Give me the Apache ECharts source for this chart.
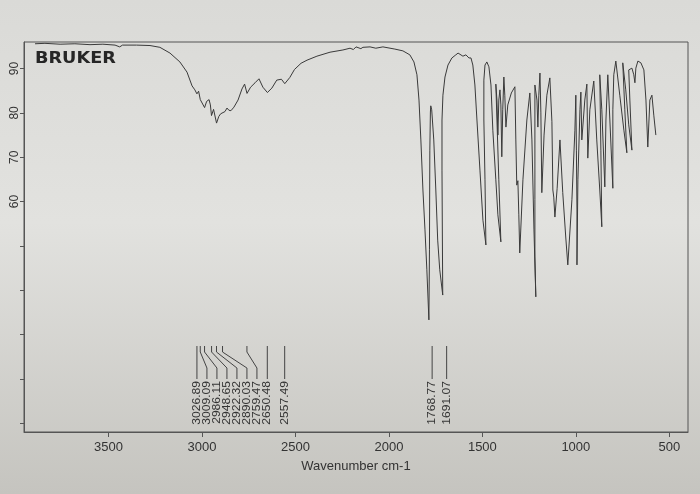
<!DOCTYPE html>
<html>
<head>
<meta charset="utf-8">
<script src="https://cdn.jsdelivr.net/npm/echarts@6/dist/echarts.min.js"></script>
<style>
  html, body { margin: 0; padding: 0; }
  #chart { width: 700px; height: 494px; }
</style>
</head>
<body>
<div id="chart"></div>
<script>
// IR spectrum: wavenumber (cm-1) and transmittance (%)
const wavenumbers = [
  3893, 3840, 3759, 3680, 3599, 3530, 3465, 3440, 3425, 3350, 3278, 3225, 3171, 3118, 3080, 3053,
  3038, 3027, 3018, 3009, 3000, 2986, 2975, 2962, 2955, 2949, 2938, 2922, 2910, 2900, 2890, 2877,
  2866, 2856, 2845, 2829, 2807, 2786, 2772, 2759, 2740, 2716, 2695, 2674, 2650, 2626, 2600, 2575,
  2557, 2530, 2505, 2470, 2438, 2385, 2315, 2246, 2208, 2190, 2176, 2150, 2139, 2101, 2070, 2032,
  1968, 1925, 1888, 1866, 1850, 1839, 1829, 1818, 1807, 1797, 1786, 1783, 1781, 1778, 1776, 1771,
  1760, 1749, 1739, 1728, 1712, 1714, 1716, 1716, 1711, 1700, 1684, 1663, 1642, 1630, 1620, 1604,
  1588, 1572, 1561, 1551, 1540, 1529, 1513, 1497, 1481, 1486, 1492, 1492, 1486, 1476, 1465, 1454,
  1444, 1428, 1417, 1401, 1412, 1422, 1428, 1422, 1417, 1412, 1406, 1401, 1396, 1391, 1385, 1380,
  1374, 1364, 1345, 1326, 1321, 1316, 1310, 1305, 1300, 1283, 1262, 1246, 1235, 1224, 1214, 1219,
  1219, 1219, 1219, 1208, 1203, 1198, 1192, 1187, 1182, 1170, 1155, 1139, 1128, 1123, 1118, 1112,
  1100, 1085, 1070, 1054, 1043, 1021, 1005, 1000, 997, 994, 994, 989, 978, 973, 968, 952,
  941, 936, 925, 904, 888, 872, 861, 866, 872, 861, 845, 839, 829, 818, 802, 802,
  797, 786, 765, 743, 727, 738, 749, 733, 717, 700, 711, 717, 700, 690, 684, 679,
  668, 652, 636, 625, 615, 604, 593, 583, 572
];
const transmittance = [
  95.6, 95.7, 95.5, 95.6, 95.4, 95.5, 95.3, 94.9, 95.3, 95.3, 95.2, 94.8, 93.5, 91.5, 89.2, 86.1,
  85.2, 84.3, 84.9, 83.0, 83.2, 81.2, 82.6, 83.0, 81.8, 79.4, 80.8, 77.7, 79.2, 79.8, 79.4, 80.3,
  81.1, 80.6, 80.5, 81.3, 82.9, 85.4, 86.5, 84.4, 85.8, 86.8, 87.7, 85.8, 84.6, 85.6, 87.4, 87.6,
  86.6, 88.0, 89.8, 91.2, 91.9, 92.8, 93.7, 94.2, 94.6, 94.3, 94.9, 94.5, 94.8, 94.9, 94.6, 94.9,
  94.4, 94.0, 93.1, 91.5, 88.6, 82.9, 73.9, 62.6, 53.6, 44.6, 33.3, 49.1, 71.6, 80.2, 81.6, 80.7,
  73.9, 62.6, 51.3, 44.6, 38.9, 52.0, 67.1, 78.4, 84.0, 88.1, 90.8, 92.4, 93.1, 93.5, 93.2, 92.8,
  93.1, 92.4, 92.4, 90.8, 86.3, 78.4, 67.1, 55.8, 50.2, 64.9, 78.4, 87.4, 90.8, 91.5, 90.4, 86.3,
  76.1, 64.9, 57.0, 50.9, 64.9, 78.4, 86.5, 82.9, 75.0, 82.9, 85.2, 81.8, 70.1, 80.7, 88.1, 84.0,
  76.8, 81.8, 84.5, 85.9, 73.9, 63.7, 64.7, 57.0, 48.4, 64.9, 78.4, 84.5, 73.9, 53.6, 38.5, 47.5,
  60.4, 78.4, 86.3, 82.9, 76.8, 84.0, 89.0, 80.0, 62.0, 75.0, 84.0, 87.9, 78.0, 62.6, 61.0, 56.5,
  63.0, 73.9, 62.0, 52.0, 45.7, 60.4, 76.1, 84.0, 71.6, 58.1, 45.7, 64.9, 80.7, 84.7, 73.9, 82.9,
  86.5, 69.8, 80.7, 87.2, 73.9, 62.6, 54.3, 71.6, 88.6, 80.7, 63.3, 78.4, 88.6, 78.4, 63.0, 80.7,
  88.6, 91.7, 84.0, 76.1, 71.0, 80.7, 91.3, 85.2, 77.3, 71.6, 82.9, 89.7, 90.1, 88.6, 86.8, 90.1,
  91.7, 91.3, 89.7, 82.9, 72.3, 82.9, 84.0, 79.5, 75.0
];
// peak picks printed under the trace
const peakPositions = [3026.89, 3009.09, 2986.11, 2948.65, 2922.32, 2890.03, 2759.47, 2650.48, 2557.49, 1768.77, 1691.07];
const xTicks = [3500, 3000, 2500, 2000, 1500, 1000, 500];
const yTicks = [10, 20, 30, 40, 50, 60, 70, 80, 90];
const yLabels = [60, 70, 80, 90];

const font = '"Liberation Sans", Arial, sans-serif';
const ink = '#3a3a3a';

const chart = echarts.init(document.getElementById('chart'));

const spectrum = wavenumbers.map((w, i) => [w, transmittance[i]]);

// leader line + rotated label for one peak; labels are pushed right so they don't overlap
function renderPeak(params, api) {
  let prev = -Infinity;
  let lx = 0;
  for (let i = 0; i <= params.dataIndex; i++) {
    const px = api.coord([peakPositions[i], 8])[0];
    lx = Math.max(px, prev + 10);
    prev = lx;
  }
  const pt = api.coord([api.value(0), 8]);
  const px = pt[0];
  const bottom = pt[1];
  return {
    type: 'group',
    children: [
      {
        type: 'polyline',
        shape: { points: [[px, bottom - 86], [px, bottom - 80], [lx, bottom - 64], [lx, bottom - 53]] },
        style: { stroke: '#444', lineWidth: 1, fill: 'none' }
      },
      {
        type: 'text',
        x: lx,
        y: bottom - 51,
        rotation: Math.PI / 2,
        scaleX: 1.1,
        style: {
          text: api.value(0).toFixed(2),
          fill: '#333',
          font: '11px ' + font,
          align: 'right',
          verticalAlign: 'middle'
        }
      }
    ]
  };
}

const option = {
  animation: false,
  backgroundColor: new echarts.graphic.LinearGradient(0, 0, 0, 1, [
    { offset: 0, color: '#dadad7' },
    { offset: 0.45, color: '#e2e2df' },
    { offset: 1, color: '#c5c4bf' }
  ]),
  grid: {
    left: 24, right: 12, top: 42, bottom: 62,
    show: true, borderColor: '#555', borderWidth: 1
  },
  xAxis: {
    type: 'value',
    min: 400,
    max: 3952,
    inverse: true,
    name: 'Wavenumber cm-1',
    nameLocation: 'middle',
    nameGap: 28,
    nameTextStyle: { fontSize: 13, color: '#333', fontFamily: font },
    axisLine: { lineStyle: { color: '#555' } },
    axisTick: { customValues: xTicks, length: 5, lineStyle: { color: '#555' } },
    axisLabel: {
      customValues: xTicks, margin: 9, fontSize: 13, color: '#333', fontFamily: font,
      formatter: v => String(v)
    },
    splitLine: { show: false }
  },
  yAxis: {
    type: 'value',
    min: 8,
    max: 96,
    axisLine: { show: true, lineStyle: { color: '#555' } },
    axisTick: { show: true, customValues: yTicks, length: 4, lineStyle: { color: '#555' } },
    axisLabel: {
      customValues: yLabels, rotate: 90, margin: 3, fontSize: 12, color: '#333', fontFamily: font,
      formatter: v => String(v)
    },
    splitLine: { show: false }
  },
  graphic: [
    {
      type: 'text',
      x: 35,
      y: 52,
      scaleX: 1.18,
      style: { text: 'BRUKER', font: 'bold 15px "DejaVu Sans"', fill: '#262626', verticalAlign: 'top' }
    }
  ],
  series: [
    {
      type: 'line',
      data: spectrum,
      showSymbol: false,
      silent: true,
      lineStyle: { color: ink, width: 1 }
    },
    {
      type: 'custom',
      data: peakPositions.map(p => [p, 8]),
      encode: { x: 0, y: 1 },
      renderItem: renderPeak,
      clip: false,
      silent: true
    }
  ]
};

chart.setOption(option);
</script>
</body>
</html>
